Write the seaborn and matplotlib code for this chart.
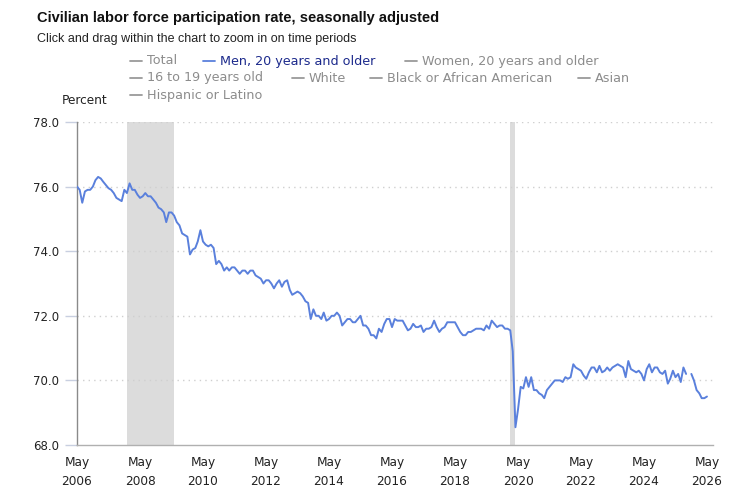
import numpy as np
import pandas as pd
import matplotlib
matplotlib.use("Agg")
import matplotlib.pyplot as plt
from matplotlib.lines import Line2D
import seaborn as sns

# ---- data (monthly, May 2006 onward; Oct 2025 missing) ----
start_month = "2006-05-01"
men_20_plus = [
    76.0, 75.9, 75.5, 75.85, 75.9, 75.9, 76.0, 76.2, 76.3, 76.25, 76.15, 76.05,
    75.95, 75.9, 75.8, 75.65, 75.6, 75.55, 75.9, 75.8, 76.1, 75.9, 75.9, 75.75,
    75.65, 75.7, 75.8, 75.7, 75.7, 75.6, 75.5, 75.35, 75.3, 75.2, 74.9, 75.2,
    75.2, 75.1, 74.9, 74.8, 74.55, 74.5, 74.45, 73.9, 74.05, 74.1, 74.3, 74.65,
    74.3, 74.2, 74.15, 74.2, 74.1, 73.6, 73.7, 73.6, 73.4, 73.5, 73.4, 73.5,
    73.5, 73.4, 73.3, 73.4, 73.4, 73.3, 73.4, 73.4, 73.25, 73.2, 73.15, 73.0,
    73.1, 73.1, 73.0, 72.85, 73.0, 73.1, 72.9, 73.05, 73.1, 72.8, 72.65, 72.7,
    72.75, 72.7, 72.6, 72.45, 72.4, 71.9, 72.2, 72.0, 72.0, 71.9, 72.1, 71.85,
    71.9, 72.0, 72.0, 72.1, 72.0, 71.7, 71.8, 71.9, 71.9, 71.8, 71.8, 71.9,
    72.0, 71.7, 71.7, 71.6, 71.4, 71.4, 71.3, 71.6, 71.5, 71.75, 71.9, 71.9,
    71.65, 71.9, 71.85, 71.85, 71.85, 71.7, 71.55, 71.6, 71.75, 71.65, 71.65, 71.7,
    71.5, 71.6, 71.6, 71.65, 71.85, 71.65, 71.5, 71.6, 71.65, 71.8, 71.8, 71.8,
    71.8, 71.65, 71.5, 71.4, 71.4, 71.5, 71.5, 71.55, 71.6, 71.6, 71.6, 71.55,
    71.7, 71.6, 71.85, 71.75, 71.65, 71.7, 71.7, 71.6, 71.6, 71.55, 70.9, 68.55,
    69.1, 69.8, 69.75, 70.1, 69.8, 70.1, 69.7, 69.7, 69.6, 69.55, 69.45, 69.7,
    69.8, 69.9, 70.0, 70.0, 70.0, 69.95, 70.1, 70.05, 70.1, 70.5, 70.4, 70.35,
    70.3, 70.15, 70.05, 70.25, 70.4, 70.4, 70.25, 70.45, 70.25, 70.3, 70.4, 70.3,
    70.4, 70.45, 70.5, 70.45, 70.4, 70.1, 70.6, 70.35, 70.3, 70.25, 70.3, 70.2,
    70.0, 70.35, 70.5, 70.25, 70.4, 70.4, 70.25, 70.2, 70.3, 69.9, 70.05, 70.3,
    70.1, 70.2, 69.95, 70.4, 70.2, np.nan, 70.2, 70.0, 69.7, 69.6, 69.45, 69.45,
    69.5,
]
recessions = [("2007-12-01", "2009-06-01"), ("2020-02-01", "2020-04-01")]
y_ticks = [68, 70, 72, 74, 76, 78]
x_tick_years = [2006, 2008, 2010, 2012, 2014, 2016, 2018, 2020, 2022, 2024, 2026]
legend_row1 = ["Total", "Men, 20 years and older", "Women, 20 years and older"]
legend_row2 = ["16 to 19 years old", "White", "Black or African American", "Asian"]
legend_row3 = ["Hispanic or Latino"]

dates = pd.date_range(start_month, periods=len(men_20_plus), freq="MS")
df = pd.DataFrame({"date": dates, "rate": men_20_plus})
df["segment"] = df["rate"].isna().cumsum()
df = df.dropna()

# ---- figure ----
sns.set_style("white")
plt.rcParams["font.family"] = ["DejaVu Sans"]
W, H = 750, 497
fig = plt.figure(figsize=(W / 100, H / 100), dpi=100)
ax = fig.add_axes([77 / W, 52 / H, (713 - 77) / W, (445 - 122) / H])

for a, b in recessions:
    ax.axvspan(pd.Timestamp(a), pd.Timestamp(b), color="#dcdcdc", lw=0, zorder=0)

for yv in y_ticks[1:]:
    ax.axhline(yv, color="#cfcfcf", lw=1.0, ls=(0, (1, 3)), zorder=1)

sns.lineplot(data=df, x="date", y="rate", units="segment", estimator=None,
             color="#5a80dc", lw=1.4, ax=ax, zorder=3)

ax.set_ylim(68, 78)
ax.set_xlim(pd.Timestamp("2006-05-01"), pd.Timestamp("2026-07-10"))
ax.set_yticks(y_ticks)
ax.set_yticklabels([f"{v:.1f}" for v in y_ticks], fontsize=8.5, color="#222222")
ax.set_xticks([pd.Timestamp(f"{y}-05-01") for y in x_tick_years])
ax.set_xticklabels([f"May\n{y}" for y in x_tick_years], fontsize=8.7,
                   color="#222222", linespacing=1.6)
ax.tick_params(axis="y", length=9, width=1, color="#c8cfe0", pad=4, left=True)
ax.tick_params(axis="x", length=0, pad=8)
ax.set_xlabel("")
ax.set_ylabel("")
for s in ["top", "right"]:
    ax.spines[s].set_visible(False)
ax.spines["left"].set_color("#8a8a8a")
ax.spines["bottom"].set_color("#b0b0b0")
ax.spines["left"].set_linewidth(1.0)
ax.spines["bottom"].set_linewidth(1.0)

def fx(x):
    return x / W

def fy(y):
    return 1 - y / H

fig.text(fx(37), fy(18), "Civilian labor force participation rate, seasonally adjusted",
         family="Liberation Sans", weight="bold", fontsize=10.5, va="center", color="#111111")
fig.text(fx(37), fy(39), "Click and drag within the chart to zoom in on time periods",
         family="Liberation Sans", fontsize=9, va="center", color="#222222")
fig.text(fx(62), fy(101), "Percent", fontsize=8.7, va="center", color="#222222")

gray = "#8c8c8c"
def legend_item(x, y, label, active=False):
    dash_color = "#5a80dc" if active else "#9a9a9a"
    txt_color = "#1c2a8c" if active else gray
    fig.add_artist(Line2D([fx(x), fx(x + 12)], [fy(y), fy(y)], color=dash_color,
                          lw=1.3, transform=fig.transFigure))
    fig.text(fx(x + 17), fy(y), label, fontsize=9.2, va="center", color=txt_color)

for x, lab in zip([130, 203, 405], legend_row1):
    legend_item(x, 61, lab, active=(lab.startswith("Men")))
for x, lab in zip([130, 292, 370, 578], legend_row2):
    legend_item(x, 78, lab)
for x, lab in zip([130], legend_row3):
    legend_item(x, 95, lab)

fig.savefig("out.png", dpi=100)
